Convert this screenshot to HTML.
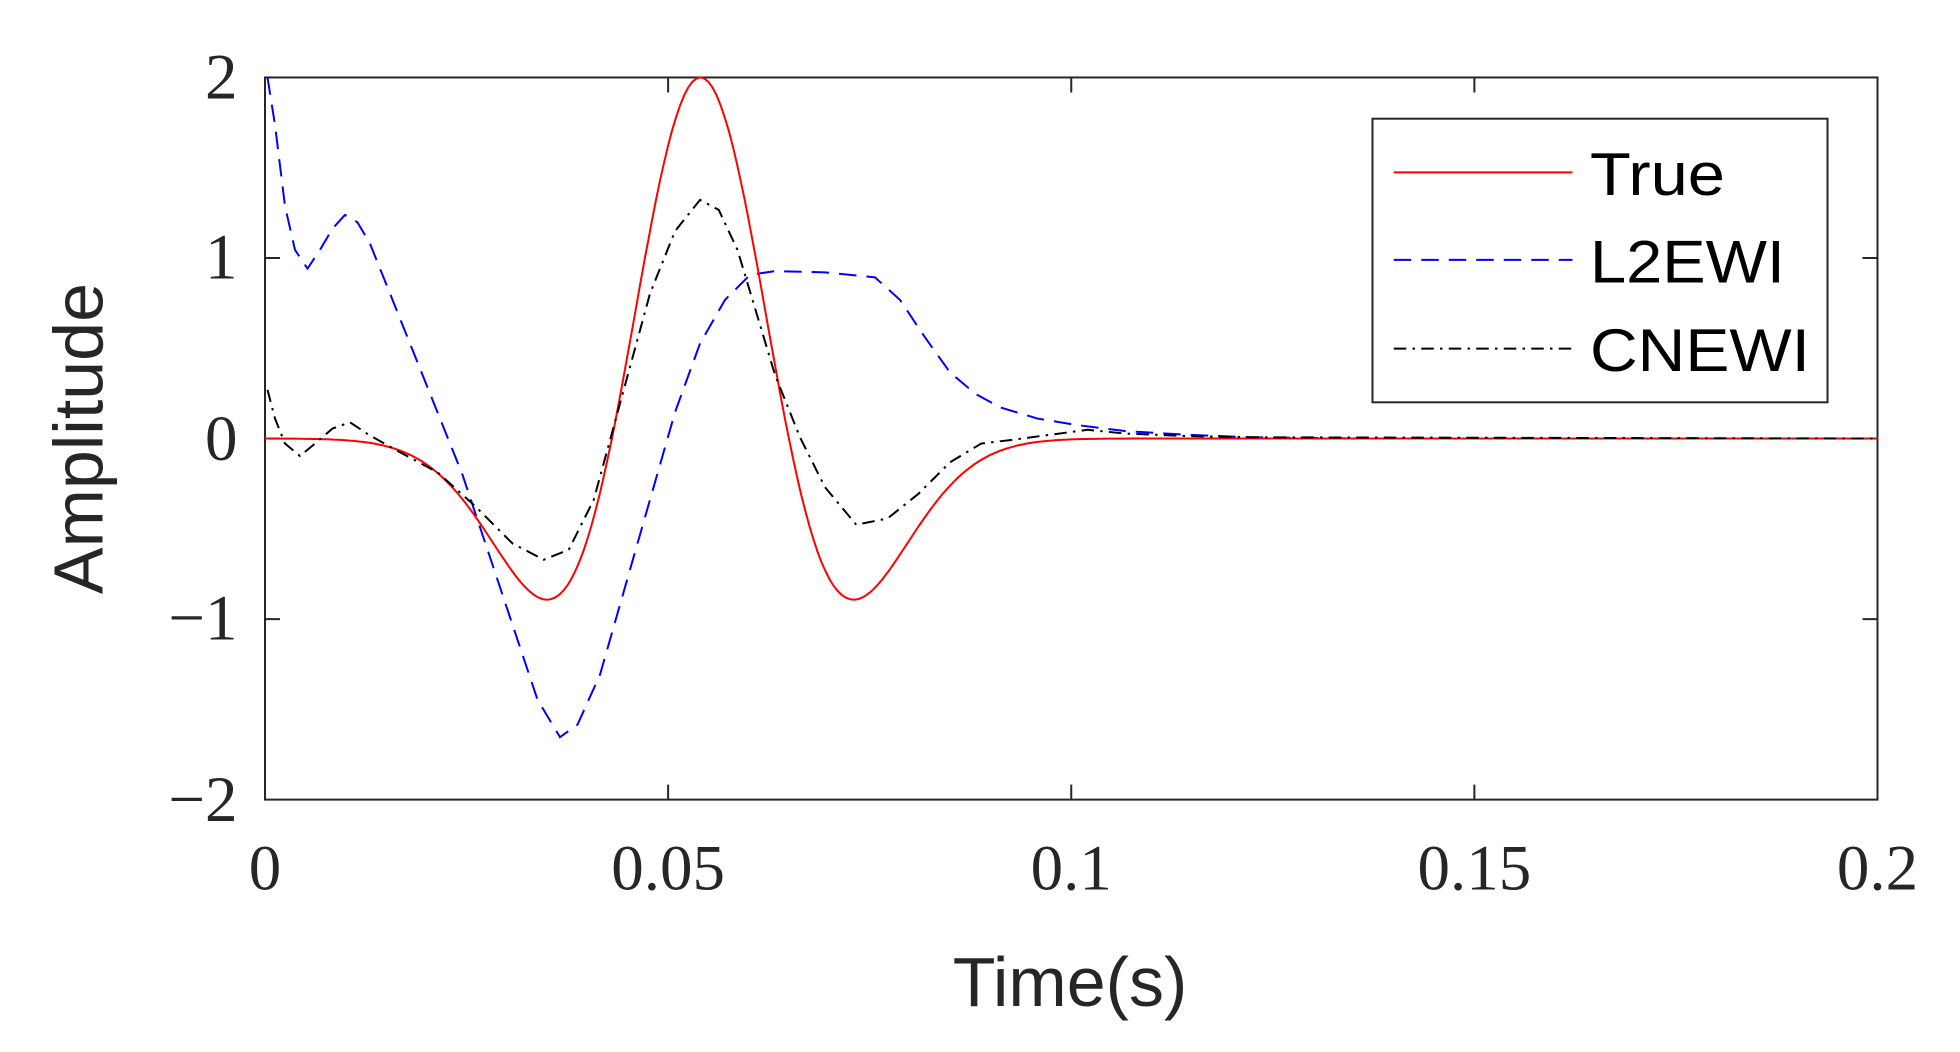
<!DOCTYPE html>
<html><head><meta charset="utf-8"><style>html,body{margin:0;padding:0;background:#fff;}svg{display:block}</style></head>
<body>
<svg id="s" width="1960" height="1052" viewBox="0 0 1568 842" preserveAspectRatio="none" xmlns="http://www.w3.org/2000/svg">
<rect x="0" y="0" width="1568" height="842" fill="#fff"/>
<g stroke="#262626" stroke-width="1.6" fill="none">
<rect x="212" y="62" width="1290" height="578"/>
<path d="M534.5 640v-12M857 640v-12M1179.5 640v-12M534.5 62v12M857 62v12M1179.5 62v12M212 206.5h12M212 351h12M212 495.5h12M1502 206.5h-12M1502 351h-12M1502 495.5h-12"/>
</g>
<g font-family="Liberation Serif, serif" font-size="52" fill="#262626">
<text x="212" y="712" text-anchor="middle">0</text>
<text x="534.5" y="712" text-anchor="middle">0.05</text>
<text x="857" y="712" text-anchor="middle">0.1</text>
<text x="1179.5" y="712" text-anchor="middle">0.15</text>
<text x="1502" y="712" text-anchor="middle">0.2</text>
<text x="190" y="79" text-anchor="end">2</text>
<text x="190" y="223" text-anchor="end">1</text>
<text x="190" y="368" text-anchor="end">0</text>
<text x="190" y="512" text-anchor="end">−1</text>
<text x="190" y="657" text-anchor="end">−2</text>
</g>
<text x="856" y="805" text-anchor="middle" font-family="Liberation Sans, sans-serif" font-size="56" fill="#262626">Time(s)</text>
<text transform="translate(82,351) rotate(-90)" text-anchor="middle" font-family="Liberation Sans, sans-serif" font-size="56" fill="#262626">Amplitude</text>
<path id="l2" fill="none" stroke="#0000ff" stroke-width="1.6" stroke-dasharray="14,8" d="M214,62 L220,100 L228,165 L236,200 L246,215 L256,200 L266,183 L276,172 L286,178 L296,195 L310,230 L330,280 L350,330 L370,380 L390,440 L410,500 L430,560 L448,590 L462,580 L480,540 L500,470 L520,400 L540,330 L560,275 L580,240 L600,220 L620,217 L660,218 L700,222 L720,240 L740,270 L760,298 L780,315 L800,326 L830,335 L860,340 L900,345 L950,348 L1000,350 L1100,351 L1502,351"/>
<path id="tr" fill="none" stroke="#ff0000" stroke-width="1.6"/>
<path id="cn" fill="none" stroke="#000" stroke-width="1.6" stroke-dasharray="10,5,2,5" d="M214,312 L220,335 L228,355 L240,365 L252,355 L266,343 L280,338 L295,348 L320,362 L350,378 L380,405 L410,435 L435,448 L455,440 L475,400 L490,345 L505,290 L520,235 L540,185 L560,160 L575,168 L590,200 L605,250 L620,300 L640,350 L660,390 L685,420 L710,415 L735,395 L760,370 L785,355 L810,352 L840,348 L870,344 L900,347 L950,349 L1000,350 L1502,351"/>
<rect x="1098" y="95" width="364" height="227" fill="#fff" stroke="#262626" stroke-width="1.6"/>
<line x1="1115" y1="138" x2="1258" y2="138" stroke="#ff0000" stroke-width="1.6"/>
<line x1="1115" y1="208" x2="1258" y2="208" stroke="#0000ff" stroke-width="1.6" stroke-dasharray="14,8"/>
<line x1="1115" y1="279" x2="1258" y2="279" stroke="#000" stroke-width="1.6" stroke-dasharray="10,5,2,5"/>
<g font-family="Liberation Sans, sans-serif" font-size="48" fill="#000">
<text x="1272" y="156" textLength="108" lengthAdjust="spacingAndGlyphs">True</text>
<text x="1272" y="226" textLength="156" lengthAdjust="spacingAndGlyphs">L2EWI</text>
<text x="1272" y="297" textLength="176" lengthAdjust="spacingAndGlyphs">CNEWI</text>
</g>
</svg>
<script>
var d="",f=20.5;
for(var i=0;i<=400;i++){var t=i*0.0005;var tau=t-0.054;var a=Math.PI*Math.PI*f*f*tau*tau;var v=2*(1-2*a)*Math.exp(-a);
var x=212+t/0.2*1290,y=351-v*144.5;d+=(i?"L":"M")+x.toFixed(1)+","+y.toFixed(1);}
document.getElementById("tr").setAttribute("d",d);
</script>
</body></html>
